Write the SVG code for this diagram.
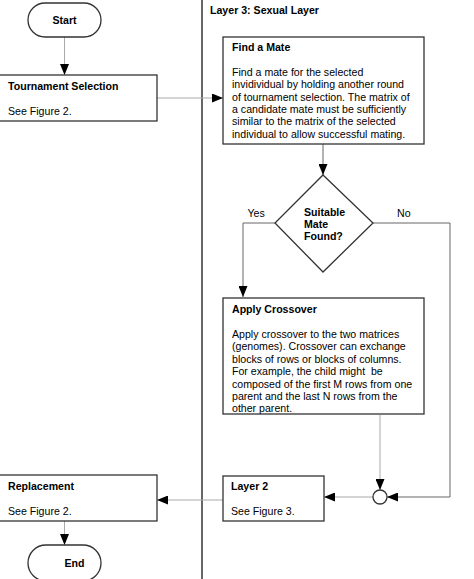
<svg xmlns="http://www.w3.org/2000/svg" width="474" height="579" viewBox="0 0 474 579">
<style>
text{font-family:"Liberation Sans",Arial,sans-serif;font-size:10.6px;fill:#000}
.b{font-weight:bold}
.box{fill:#fff;stroke:#333;stroke-width:1.3}
.c{fill:none;stroke:#aaa;stroke-width:1}
.cd{fill:none;stroke:#666;stroke-width:1}
.lane{stroke:#555;stroke-width:1.8}
</style>
<defs>
<marker id="ah" markerUnits="userSpaceOnUse" markerWidth="12" markerHeight="9" refX="11" refY="4.5" orient="auto">
<path d="M0,0 L11,4.5 L0,9 z" fill="#000"/>
</marker>
</defs>
<rect width="474" height="579" fill="#fff"/>
<line class="lane" x1="202" y1="0" x2="202" y2="579"/>
<text class="b" x="210" y="14">Layer 3: Sexual Layer</text>
<g id="connectors">
<path class="c" d="M64.5,37 V75" marker-end="url(#ah)"/>
<path class="c" d="M157,98 H223" marker-end="url(#ah)"/>
<path class="cd" d="M323,144 V175" marker-end="url(#ah)"/>
<path class="cd" d="M275,223 H243 V297" marker-end="url(#ah)"/>
<path class="cd" d="M373,223 H450 V497 H387" marker-end="url(#ah)"/>
<path class="c" d="M380,415 V490" marker-end="url(#ah)"/>
<path class="c" d="M373,497 H324" marker-end="url(#ah)"/>
<path class="c" d="M223,500 H157" marker-end="url(#ah)"/>
<path class="c" d="M64.5,521 V545" marker-end="url(#ah)"/>
<text x="247.5" y="217">Yes</text>
<text x="397" y="217">No</text>
</g>
<g id="start">
<rect class="box" x="28" y="3" width="73" height="34" rx="17"/>
<text class="b" x="64.5" y="24" text-anchor="middle">Start</text>
</g>
<g id="tournament">
<rect class="box" x="-1" y="75" width="158" height="46"/>
<text class="b" x="8" y="90">Tournament Selection</text>
<text x="8" y="115">See Figure 2.</text>
</g>
<g id="findmate">
<rect class="box" x="223" y="37" width="201" height="107"/>
<text class="b" x="232" y="51">Find a Mate</text>
<text x="232" y="75.5">Find a mate for the selected</text>
<text x="232" y="88">invidividual by holding another round</text>
<text x="232" y="100.5">of tournament selection. The matrix of</text>
<text x="232" y="113">a candidate mate must be sufficiently</text>
<text x="232" y="125">similar to the matrix of the selected</text>
<text x="232" y="137.5">individual to allow successful mating.</text>
</g>
<g id="decision">
<polygon class="box" points="323,175 373,223 323,272 275,223"/>
<text class="b" x="304" y="215.5">Suitable</text>
<text class="b" x="304" y="228">Mate</text>
<text class="b" x="304" y="240">Found?</text>
</g>
<g id="crossover">
<rect class="box" x="223" y="298" width="201" height="116"/>
<text class="b" x="232" y="313">Apply Crossover</text>
<text x="232" y="338">Apply crossover to the two matrices</text>
<text x="232" y="350">(genomes). Crossover can exchange</text>
<text x="232" y="362.5">blocks of rows or blocks of columns.</text>
<text x="232" y="375" xml:space="preserve">For example, the child might  be</text>
<text x="232" y="387.5">composed of the first M rows from one</text>
<text x="232" y="400">parent and the last N rows from the</text>
<text x="232" y="412">other parent.</text>
</g>
<g id="merge">
<circle class="box" cx="380" cy="497" r="7"/>
</g>
<g id="layer2">
<rect class="box" x="223" y="476" width="101" height="45"/>
<text class="b" x="231" y="490">Layer 2</text>
<text x="231" y="515">See Figure 3.</text>
</g>
<g id="replacement">
<rect class="box" x="-1" y="475" width="158" height="46"/>
<text class="b" x="8" y="490">Replacement</text>
<text x="8" y="515">See Figure 2.</text>
</g>
<g id="end">
<rect class="box" x="28" y="545" width="73" height="36" rx="18"/>
<text class="b" x="64.5" y="567">End</text>
</g>
</svg>
